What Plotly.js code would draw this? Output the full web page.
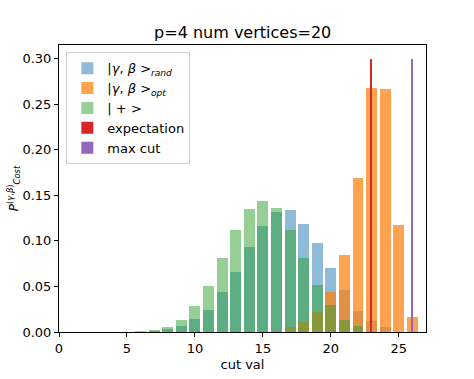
<!DOCTYPE html>
<html>
<head>
<meta charset="utf-8">
<script src="https://cdn.plot.ly/plotly-3.0.1.min.js"></script>
<style>html,body{margin:0;padding:0;background:#fff;}#chart{width:474px;height:379px;}</style>
</head>
<body>
<div id="chart"></div>
<script>
// cut values (x) for each series
var randX = [7, 8, 9, 10, 11, 12, 13, 14, 15, 16, 17, 18, 19, 20, 21, 22, 23, 24];
var randY = [0.001, 0.0033, 0.0066, 0.0143, 0.0246, 0.0434, 0.0662, 0.093, 0.116, 0.132, 0.1335, 0.119, 0.098, 0.0706, 0.046, 0.023, 0.012, 0.0055];

var optX = [17, 18, 19, 20, 21, 22, 23, 24, 25, 26];
var optY = [0.0055, 0.011, 0.022, 0.044, 0.0846, 0.169, 0.268, 0.2665, 0.117, 0.0165];

var plusX = [6, 7, 8, 9, 10, 11, 12, 13, 14, 15, 16, 17, 18, 19, 20, 21, 22];
var plusY = [0.001, 0.002, 0.0055, 0.0136, 0.0283, 0.0504, 0.0809, 0.112, 0.135, 0.144, 0.136, 0.112, 0.081, 0.052, 0.0294, 0.0136, 0.0063];

var expectationX = [22.92];
var maxCutX = [26];
var lineHeight = [0.30];

var xTicks = [0, 5, 10, 15, 20, 25];
var yTicks = [0, 0.05, 0.10, 0.15, 0.20, 0.25, 0.30];

var traces = [
  {type: 'bar', x: randX, y: randY, width: 0.8, name: '|<i>γ</i>, <i>β</i> ><sub><i>rand</i></sub>',
   marker: {color: 'rgba(31,119,180,0.5)', line: {width: 0}}},
  {type: 'bar', x: optX, y: optY, width: 0.8, name: '|<i>γ</i>, <i>β</i> ><sub><i>opt</i></sub>',
   marker: {color: 'rgba(255,127,14,0.72)', line: {width: 0}}},
  {type: 'bar', x: plusX, y: plusY, width: 0.8, name: '| + >',
   marker: {color: 'rgba(44,160,44,0.5)', line: {width: 0}}},
  {type: 'bar', x: expectationX, y: lineHeight, width: 0.15, name: 'expectation',
   marker: {color: '#d62728', line: {width: 0}}},
  {type: 'bar', x: maxCutX, y: lineHeight, width: 0.15, name: 'max cut',
   marker: {color: '#9467bd', line: {width: 0}}}
];

var fontFam = 'DejaVu Sans, sans-serif';
var layout = {
  width: 474, height: 379,
  margin: {l: 59, r: 48, t: 45, b: 47},
  paper_bgcolor: '#fff', plot_bgcolor: '#fff',
  barmode: 'overlay',
  bargap: 0,
  showlegend: true,
  font: {family: fontFam, size: 13, color: '#000'},
  title: {text: 'p=4 num vertices=20', x: 0.512, xanchor: 'center', y: 0.915, yanchor: 'middle',
          font: {family: fontFam, size: 16, color: '#000'}},
  xaxis: {range: [0, 27], tickvals: xTicks, ticktext: xTicks.map(String),
          showline: true, mirror: true, linecolor: '#000', linewidth: 1,
          ticks: 'outside', ticklen: 4, tickcolor: '#000', showgrid: false, zeroline: false,
          tickfont: {family: fontFam, size: 13, color: '#000'},
          title: {text: 'cut val', standoff: 5, font: {family: fontFam, size: 13, color: '#000'}}},
  yaxis: {range: [0, 0.315], tickvals: yTicks, tickformat: '.2f',
          showline: true, mirror: true, linecolor: '#000', linewidth: 1,
          ticks: 'outside', ticklen: 4, tickcolor: '#000', showgrid: false, zeroline: false,
          tickfont: {family: fontFam, size: 13, color: '#000'},
          title: {text: '<i>P</i><sup>(<i>γ</i>,<i>β</i>)</sup><sub><i>Cost</i></sub>', standoff: 0,
                  font: {family: fontFam, size: 12, color: '#000'}}},
  legend: {x: 0.02, y: 0.975, xanchor: 'left', yanchor: 'top',
           bgcolor: 'rgba(255,255,255,0.8)', bordercolor: '#d0d0d0', borderwidth: 1,
           font: {family: fontFam, size: 13, color: '#000'}, tracegroupgap: 0, itemwidth: 30}
};

Plotly.newPlot('chart', traces, layout, {displayModeBar: false, staticPlot: true});
</script>
</body>
</html>
